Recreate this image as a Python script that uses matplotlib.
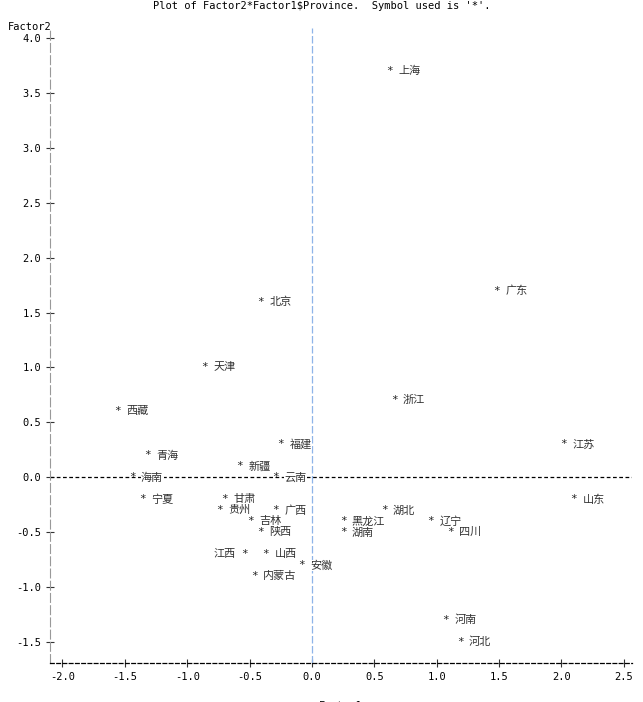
import matplotlib.pyplot as plt
import numpy as np

plt.rcParams['font.family'] = ['Noto Sans CJK SC', 'DejaVu Sans']

provinces = ['上海', '广东', '北京', '天津', '西藏', '浙江', '江苏', '福建', '青海', '新疆',
             '海南', '云南', '山东', '宁夏', '甘肃', '贵州', '广西', '湖北', '吉林', '黑龙江',
             '辽宁', '陕西', '湖南', '四川', '江西', '山西', '安徽', '内蒙古', '河南', '河北']
factor1 = [0.62, 1.48, -0.41, -0.86, -1.56, 0.66, 2.02, -0.25, -1.32, -0.58,
           -1.44, -0.29, 2.10, -1.36, -0.70, -0.74, -0.29, 0.58, -0.49, 0.25,
           0.95, -0.41, 0.25, 1.11, -0.54, -0.37, -0.08, -0.46, 1.07, 1.19]
factor2 = [3.7, 1.7, 1.6, 1.0, 0.6, 0.7, 0.3, 0.3, 0.2, 0.1,
           0.0, 0.0, -0.2, -0.2, -0.2, -0.3, -0.3, -0.3, -0.4, -0.4,
           -0.4, -0.5, -0.5, -0.5, -0.7, -0.7, -0.8, -0.9, -1.3, -1.5]
left_labels = ['江西']

fig = plt.figure(figsize=(6.43, 7.02), dpi=100)
ax = fig.add_axes([50 / 643, 1 - 663 / 702, 582 / 643, 635 / 702])
ax.set_xlim(-2.10, 2.566)
ax.set_ylim(-1.69, 4.09)

# reference lines
ax.axhline(0, color='black', linestyle=(0, (3, 2)), linewidth=0.9)
ax.axvline(0, color='#8fb4e8', linestyle=(0, (6, 2)), linewidth=0.9)

for x, y, name in zip(factor1, factor2, provinces):
    ax.text(x, y, '*', ha='center', va='center', fontsize=8, color='#222222',
            family='DejaVu Sans Mono')
    if name in left_labels:
        ax.text(x - 0.07, y, name, ha='right', va='center', fontsize=8, color='#333333',
                bbox=dict(facecolor='white', edgecolor='none', pad=0.3))
    else:
        ax.text(x + 0.07, y, name, ha='left', va='center', fontsize=8, color='#333333',
                bbox=dict(facecolor='white', edgecolor='none', pad=0.3))

for s in ['top', 'right']:
    ax.spines[s].set_visible(False)
ax.spines['left'].set_linestyle((0, (8, 3)))
ax.spines['left'].set_color('#999999')
ax.spines['left'].set_linewidth(0.8)
ax.spines['bottom'].set_linestyle((0, (3, 2)))
ax.spines['bottom'].set_linewidth(0.9)

ax.set_xticks(np.arange(-2.0, 2.51, 0.5))
ax.set_yticks(np.arange(-1.5, 4.01, 0.5))
ax.set_xticklabels([f'{v:.1f}' for v in ax.get_xticks()], family='DejaVu Sans Mono', fontsize=7.5)
ax.set_yticklabels([f'{v:.1f}' for v in ax.get_yticks()], family='DejaVu Sans Mono', fontsize=7.5)
ax.tick_params(direction='inout', length=6, width=0.8, color='#333333')

ax.set_xlabel('Factor1', family='DejaVu Sans Mono', fontsize=7.5, labelpad=14)
fig.text(8 / 643, 1 - 27 / 702, 'Factor2', family='DejaVu Sans Mono', fontsize=7.5, va='center')
fig.text(0.5, 1 - 6 / 702, "Plot of Factor2*Factor1$Province.  Symbol used is '*'.",
         ha='center', va='center', family='DejaVu Sans Mono', fontsize=7.5)

fig.savefig('out.png', dpi=100)
